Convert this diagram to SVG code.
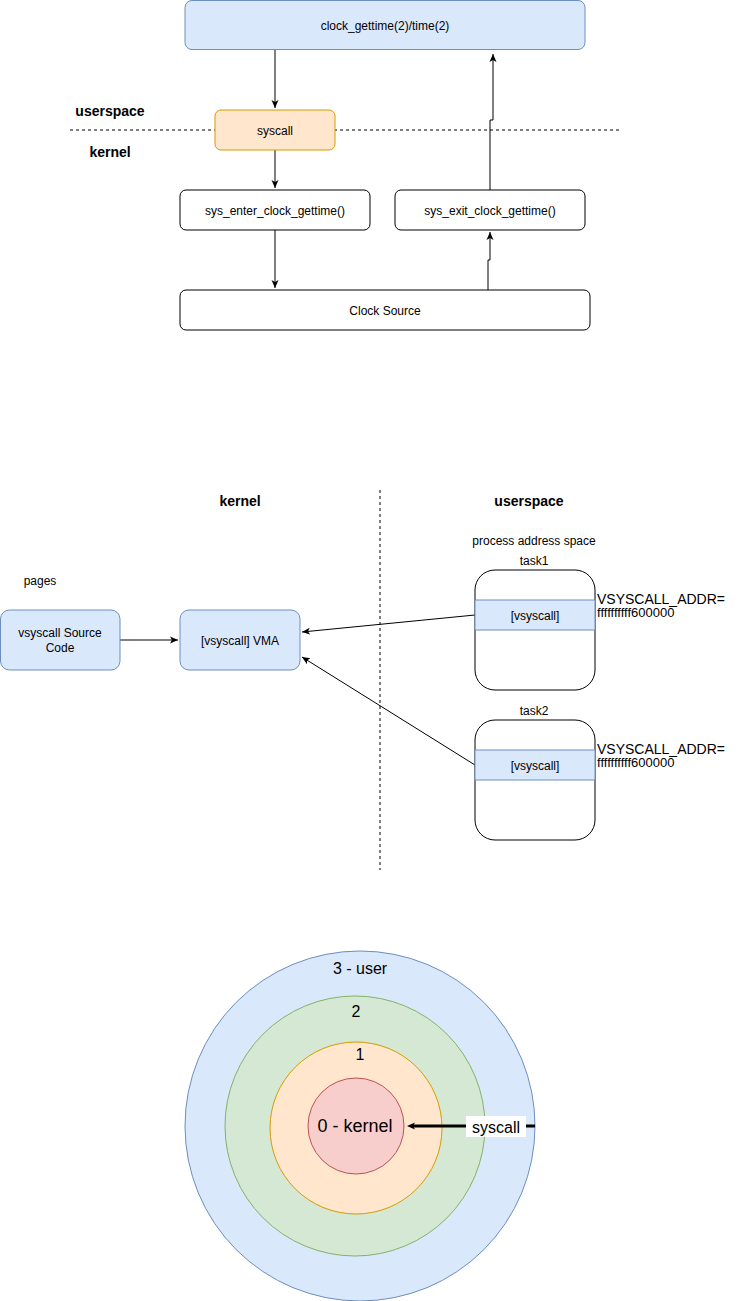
<svg xmlns="http://www.w3.org/2000/svg" width="745" height="1301" viewBox="0 0 745 1301">
<defs>
<style>
text{font-family:"Liberation Sans",Arial,sans-serif;fill:#000;text-anchor:middle}
.s{font-size:12px}.b{font-size:14px;font-weight:bold}
.w{fill:#fff;stroke:#000}.bl{fill:#dae8fc;stroke:#6c8ebf}
.c{fill:none;stroke:#000}
</style>
<marker id="a" markerWidth="10" markerHeight="10" refX="8" refY="5" orient="auto" markerUnits="userSpaceOnUse"><path d="M0,1.5L8,5L0,8.5L2,5z" fill="#000"/></marker>
<marker id="a2" markerWidth="8" markerHeight="8" refX="3" refY="4" orient="auto" markerUnits="userSpaceOnUse" viewBox="0 0 8 8"><path d="M0,0.5L8,4L0,7.5L2,4z" fill="#000"/></marker>
</defs>
<rect width="745" height="1301" fill="#fff"/>
<text class="b" x="110" y="116">userspace</text>
<text class="b" x="110" y="157">kernel</text>
<line x1="70" y1="130" x2="620" y2="130" stroke="#000" stroke-dasharray="3,3"/>
<line x1="380" y1="490" x2="380" y2="870" stroke="#000" stroke-dasharray="3,3"/>
<text class="b" x="240" y="506">kernel</text>
<text class="b" x="529" y="506">userspace</text>
<text class="s" x="534" y="545">process address space</text>
<text class="s" x="40" y="585">pages</text>
<g id="connectors">
<path class="c" d="M275,50V108" marker-end="url(#a)"/>
<path class="c" d="M275,150V188" marker-end="url(#a)"/>
<path class="c" d="M275,230V288" marker-end="url(#a)"/>
<path class="c" d="M488,290V260H490V232" marker-end="url(#a)"/>
<path class="c" d="M490,190V120H493V54" marker-end="url(#a)"/>
<path class="c" d="M120,640H178" marker-end="url(#a)"/>
<path class="c" d="M475,615L302,632" marker-end="url(#a)"/>
<path class="c" d="M475,765L302,657" marker-end="url(#a)"/>
</g>
<g id="n-top"><rect x="185" y="0.5" width="400" height="49" rx="7" class="bl"/><text class="s" x="385" y="30">clock_gettime(2)/time(2)</text></g>
<g id="n-syscall"><rect x="215" y="110" width="120" height="40" rx="6" fill="#ffe6cc" stroke="#d79b00"/><text class="s" x="275" y="135">syscall</text></g>
<g id="n-enter"><rect x="180" y="190" width="190" height="40" rx="6" class="w"/><text class="s" x="275" y="215">sys_enter_clock_gettime()</text></g>
<g id="n-exit"><rect x="395" y="190" width="190" height="40" rx="6" class="w"/><text class="s" x="490" y="215">sys_exit_clock_gettime()</text></g>
<g id="n-clock"><rect x="180" y="290" width="410" height="40" rx="6" class="w"/><text class="s" x="385" y="315">Clock Source</text></g>
<g id="n-src"><rect x="0.5" y="610" width="119.5" height="60" rx="9" class="bl"/><text class="s" x="60" y="637">vsyscall Source</text><text class="s" x="60" y="652">Code</text></g>
<g id="n-vma"><rect x="180" y="610" width="120" height="60" rx="9" class="bl"/><text class="s" x="240" y="645">[vsyscall] VMA</text></g>
<g id="n-task1"><text class="s" x="534" y="565">task1</text><rect x="475" y="570" width="120" height="120" rx="20" class="w"/><rect x="475" y="600" width="120" height="30" class="bl"/><text class="s" x="535" y="620">[vsyscall]</text>
<text x="597" y="604" style="font-size:14px;text-anchor:start">VSYSCALL_ADDR=</text><text x="597" y="617" style="font-size:13px;text-anchor:start">ffffffffff600000</text></g>
<g id="n-task2"><text class="s" x="534" y="715">task2</text><rect x="475" y="720" width="120" height="120" rx="20" class="w"/><rect x="475" y="750" width="120" height="30" class="bl"/><text class="s" x="535" y="770">[vsyscall]</text>
<text x="597" y="754" style="font-size:14px;text-anchor:start">VSYSCALL_ADDR=</text><text x="597" y="767" style="font-size:13px;text-anchor:start">ffffffffff600000</text></g>
<g id="rings">
<circle cx="360" cy="1126" r="175" class="bl"/>
<circle cx="355" cy="1126" r="130" fill="#d5e8d4" stroke="#82b366"/>
<circle cx="356" cy="1128" r="86" fill="#ffe6cc" stroke="#d79b00"/>
<circle cx="356" cy="1126" r="48" fill="#f8cecc" stroke="#b85450"/>
<text x="360" y="974" style="font-size:16px">3 - user</text>
<text x="356" y="1017" style="font-size:16px">2</text>
<text x="360" y="1060" style="font-size:16px">1</text>
<text x="355" y="1132" style="font-size:18px">0 - kernel</text>
</g>
<g id="syscall-arrow">
<path d="M535,1126H412" stroke="#000" stroke-width="3" fill="none" marker-end="url(#a2)"/>
<rect x="466" y="1116" width="60" height="21" fill="#fff"/>
<text x="496" y="1133" style="font-size:16px">syscall</text>
</g>
</svg>
